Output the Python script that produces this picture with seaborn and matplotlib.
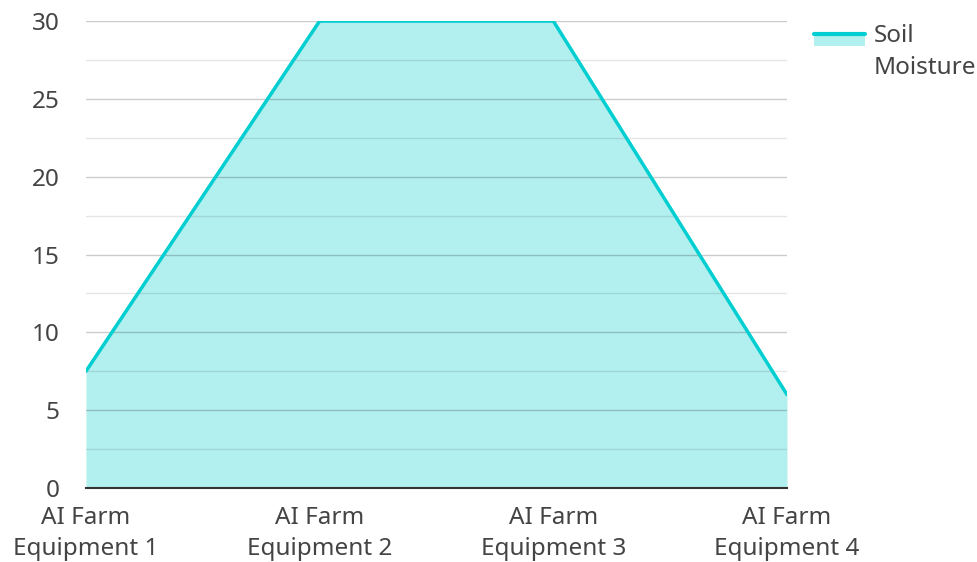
import matplotlib.pyplot as plt
import seaborn as sns
import pandas as pd
from matplotlib.legend_handler import HandlerBase
from matplotlib.patches import Rectangle
from matplotlib.lines import Line2D
from matplotlib.ticker import MultipleLocator

categories = ["AI Farm\nEquipment 1", "AI Farm\nEquipment 2", "AI Farm\nEquipment 3", "AI Farm\nEquipment 4"]
soil_moisture = [7.5, 30, 30, 6]
series_name = "Soil\nMoisture"

line_color = "#00CED1"
fill_color = "#B2EFEF"
text_color = "#444444"


class AreaHandler(HandlerBase):
    # filled box with the line along its top edge, lifted to sit beside the first text line
    def create_artists(self, legend, orig_handle, xdescent, ydescent, width, height, fontsize, trans):
        lift = 10
        rect = Rectangle((-xdescent, -ydescent + lift), width, height * 0.8,
                         facecolor=fill_color, edgecolor="none", transform=trans)
        line = Line2D([-xdescent, -xdescent + width], [-ydescent + lift + height * 0.8] * 2,
                      color=line_color, lw=3, transform=trans)
        return [rect, line]


df = pd.DataFrame({"x": range(len(categories)), "value": soil_moisture})

sns.set_style("white")
plt.rcParams["font.family"] = ["Noto Sans", "DejaVu Sans"]
fs = 17.5

fig = plt.figure(figsize=(9.77, 5.62), dpi=100)
ax = fig.add_axes([0.088, 0.1317, 0.7175, 0.8309])

ax.fill_between(df["x"], df["value"], 0, color=fill_color, linewidth=0, zorder=1)
sns.lineplot(data=df, x="x", y="value", color=line_color, linewidth=2.5, ax=ax, zorder=3)

ax.set_xlim(0, len(categories) - 1)
ax.set_ylim(0, 30)
ax.yaxis.set_major_locator(MultipleLocator(5))
ax.yaxis.set_minor_locator(MultipleLocator(2.5))
ax.grid(axis="y", which="major", color="#000000", alpha=0.2, lw=1, zorder=2)
ax.grid(axis="y", which="minor", color="#000000", alpha=0.1, lw=1, zorder=2)
ax.set_axisbelow(False)
ax.set_xticks(df["x"])
ax.set_xticklabels(categories, linespacing=1.38)
ax.tick_params(axis="both", length=0, labelsize=fs, colors=text_color)
ax.tick_params(axis="x", pad=13)
ax.tick_params(axis="y", pad=19)
for lbl in ax.get_yticklabels():
    lbl.set_horizontalalignment("right")
ax.set_xlabel("")
ax.set_ylabel("")
for side in ["left", "right", "top"]:
    ax.spines[side].set_visible(False)
ax.spines["bottom"].set_color("#333333")
ax.spines["bottom"].set_linewidth(1.5)
ax.spines["bottom"].set_zorder(4)

proxy = Rectangle((0, 0), 1, 1)
leg = fig.legend([proxy], [series_name], handler_map={Rectangle: AreaHandler()},
                 loc="upper left", bbox_to_anchor=(0.823, 0.975), frameon=False,
                 fontsize=fs, labelcolor=text_color, handlelength=2.1, handleheight=0.6,
                 handletextpad=0.35, borderaxespad=0)
for t in leg.get_texts():
    t.set_linespacing(1.45)

fig.savefig("out.png", dpi=100)
